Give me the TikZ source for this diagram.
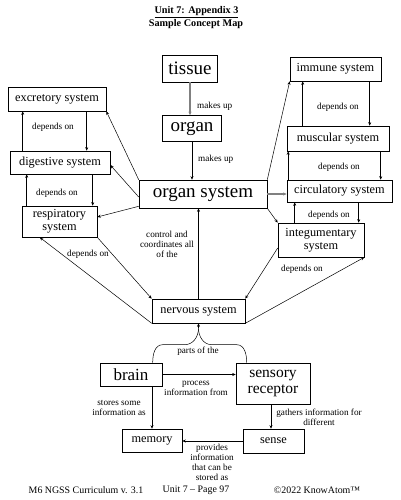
\documentclass[tikz,border=0pt]{standalone}
\usepackage{fontspec}
\setmainfont{Liberation Serif}
\usetikzlibrary{arrows.meta}
\tikzset{
  box/.style={draw, line width=0.6pt, inner sep=0pt, align=center},
  bigbox/.style={box, font=\fontsize{19}{22}\selectfont},
  midbox/.style={box, font=\fontsize{12.3}{13}\selectfont},
  lbl/.style={inner sep=0pt, align=center, font=\fontsize{9.2}{10}\selectfont},
  arr/.style={-{Stealth[length=3.5pt,width=3pt]}, line width=0.5pt},
  thickarr/.style={arr, draw=gray, line width=1.1pt}
}
\begin{document}
\begin{tikzpicture}[x=1pt, y=-1pt]
  \useasboundingbox[fill=white] (0,0) rectangle (400,500);
  \node[font=\fontsize{10.2}{12}\selectfont\bfseries] (title) at (196.5,12) {\underline{Unit 7: Appendix 3}};
  \node[font=\fontsize{10.2}{12}\selectfont\bfseries] (subtitle) at (196,24) {Sample Concept Map};

  \draw
    (190,68.5) node[bigbox, minimum width=55, minimum height=27] (tissue){tissue}
    (192,128.5) node[bigbox, minimum width=59, minimum height=26] (organ){organ}
    (203,194) node[bigbox, minimum width=128, minimum height=28] (osys){organ system}
    (57,99) node[midbox, minimum width=98, minimum height=24] (excretory){excretory system}
    (60,162.5) node[midbox, minimum width=100, minimum height=23] (digestive){digestive system}
    (59.5,221.5) node[midbox, minimum width=75, minimum height=31] (respiratory){respiratory\\system}
    (335.5,69) node[midbox, minimum width=91, minimum height=24] (immune){immune system}
    (338,138.5) node[midbox, minimum width=102, minimum height=25] (muscular){muscular system}
    (339.5,191) node[midbox, minimum width=105, minimum height=22] (circulatory){circulatory system}
    (321,240) node[midbox, minimum width=86, minimum height=34] (integumentary){integumentary\\system}
    (198.5,311) node[midbox, minimum width=93, minimum height=24] (nervous){nervous system}
    (131,374.5) node[box, font=\fontsize{17}{17}\selectfont, minimum width=62, minimum height=23] (brain){brain}
    (273,383.5) node[box, font=\fontsize{15.5}{16}\selectfont, minimum width=74, minimum height=41] (sensory){sensory\\receptor}
    (152,440.5) node[midbox, minimum width=60, minimum height=23] (memory){memory}
    (273.5,441) node[midbox, minimum width=61, minimum height=24] (sense){sense};

  \begin{scope}[lbl]
    \node[anchor=west] (mk1) at (197,106) {makes up};
    \node[anchor=west] (mk2) at (198,159) {makes up};
    \node (dep1) at (53,127) {depends on};
    \node (dep2) at (57,193) {depends on};
    \node (dep3) at (338,107) {depends on};
    \node (dep4) at (339,167) {depends on};
    \node (dep5) at (329,215) {depends on};
    \node (dep6) at (88,254) {depends on};
    \node (dep7) at (302,269) {depends on};
    \node (ctrl) at (167,244) {control and\\coordinates all\\of the};
    \node (parts) at (198,351) {parts of the};
    \node (proc) at (196,388) {process\\information from};
    \node (stores) at (119,407.5) {stores some\\information as};
    \node (gathers) at (319,417) {gathers information for\\different};
    \node (provides) at (212,462) {provides\\information\\that can be\\stored as};
  \end{scope}

  \begin{scope}[arr]
    \draw[thickarr] (tissue.south) -- (tissue.south |- organ.north);
    \draw (organ.south) -- (organ.south |- osys.north);
    % left column
    \draw ([xshift=13pt]digestive.north west) -- ([xshift=13pt]digestive.north west |- excretory.south);
    \draw ([xshift=79pt]excretory.south west) -- ([xshift=79pt]excretory.south west |- digestive.north);
    \draw ([xshift=5pt]respiratory.north west) -- ([xshift=5pt]respiratory.north west |- digestive.south);
    \draw ([xshift=83pt]digestive.south west) -- ([xshift=83pt]digestive.south west |- respiratory.north);
    \draw (osys.north west) -- (excretory.south east);
    \draw ([yshift=-3pt]osys.west) -- ([yshift=-2.5pt]digestive.east);
    \draw ([yshift=2pt]osys.south west) -- ([yshift=4.5pt]respiratory.east);
    % right column
    \draw (osys.north east) -- (immune.south west);
    \draw[thickarr] (osys.east) -- (osys.east -| circulatory.west);
    \draw (osys.south east) -- (integumentary.north west);
    \draw ([xshift=16pt]muscular.north west) -- ([xshift=16pt]muscular.north west |- immune.south);
    \draw ([xshift=80pt]immune.south west) -- ([xshift=80pt]immune.south west |- muscular.north);
    \draw ([xshift=1.5pt]circulatory.north west) -- ([xshift=1.5pt]circulatory.north west |- muscular.south);
    \draw ([xshift=94pt]muscular.south west) -- ([xshift=94pt]muscular.south west |- circulatory.north);
    \draw ([xshift=17pt]integumentary.north west) -- ([xshift=17pt]integumentary.north west |- circulatory.south);
    \draw ([xshift=72pt]circulatory.south west) -- ([xshift=72pt]circulatory.south west |- integumentary.north);
    % nervous system
    \draw (nervous.north) -- (nervous.north |- osys.south);
    \draw (respiratory.south east) -- (nervous.north west);
    \draw (nervous.south west) -- ([xshift=18pt]respiratory.south west);
    \draw ([yshift=-8pt]integumentary.west) -- (nervous.north east);
    \draw (nervous.south east) -- (integumentary.south east);
    % bottom
    \coordinate (peak) at ([yshift=-5pt]nervous.south);
    \draw[-] ([xshift=53pt]brain.north west) to[out=90,in=180] ++(10,-18) -- ++(22,0) to[out=0,in=-90] (peak);
    \draw[-] ([xshift=11pt]sensory.north west) to[out=90,in=0] ++(-10,-18) -- ++(-25,0) to[out=180,in=-90] (peak);
    \draw (peak) -- (nervous.south);
    \draw (brain.east) -- (brain.east -| sensory.west);
    \draw (memory.north |- brain.south) -- (memory.north);
    \draw ([xshift=-2pt]sensory.south) -- ([xshift=-2pt]sensory.south |- sense.north);
    \draw (sense.west) -- (sense.west -| memory.east);
  \end{scope}

  \begin{scope}[font=\fontsize{9.9}{12}\selectfont]
    \node (foot1) at (86,490) {M6 NGSS Curriculum v. 3.1};
    \node (foot2) at (196,490) {Unit 7 -- Page 97};
    \node (foot3) at (317,490) {©2022 KnowAtom™};
  \end{scope}
\end{tikzpicture}
\end{document}
